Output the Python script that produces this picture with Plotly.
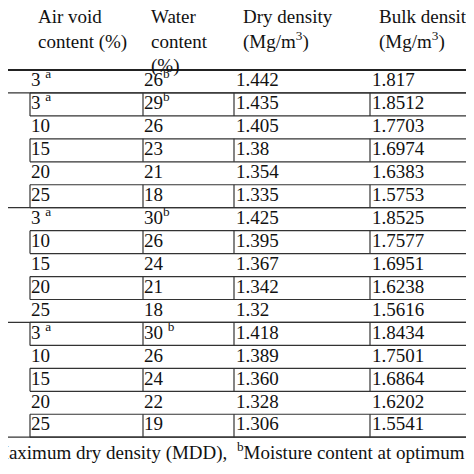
import plotly.graph_objects as go

air_void = ["3 <sup>a</sup>", "3 <sup>a</sup>", "10", "15", "20", "25",
            "3 <sup>a</sup>", "10", "15", "20", "25",
            "3 <sup>a</sup>", "10", "15", "20", "25"]
water = ["26<sup>b</sup>", "29<sup>b</sup>", "26", "23", "21", "18",
         "30<sup>b</sup>", "26", "24", "21", "18",
         "30 <sup>b</sup>", "26", "24", "22", "19"]
dry = ["1.442", "1.435", "1.405", "1.38", "1.354", "1.335",
       "1.425", "1.395", "1.367", "1.342", "1.32",
       "1.418", "1.389", "1.360", "1.328", "1.306"]
bulk = ["1.817", "1.8512", "1.7703", "1.6974", "1.6383", "1.5753",
        "1.8525", "1.7577", "1.6951", "1.6238", "1.5616",
        "1.8434", "1.7501", "1.6864", "1.6202", "1.5541"]
headers = ["Air void<br>content (%)", "Water<br>content<br>(%)",
           "Dry density<br>(Mg/m<sup>3</sup>)", "Bulk density<br>(Mg/m<sup>3</sup>)"]
group_ends = [0, 5, 10, 15]  # last row index in each group

W = 474
top = 62.0
rh = 22.95
col_x = [31, 144, 236, 372]
col_lines = [22, 135, 226, 362]
font = dict(family="Liberation Serif, Times New Roman, serif", size=19, color="#111")

fig = go.Figure()
rows = list(range(len(dry)))
ys = [top + (i + 0.5) * rh for i in rows]
for cx, col in zip(col_x, [air_void, water, dry, bulk]):
    fig.add_trace(go.Scatter(x=[cx - 8] * len(col), y=ys, mode="text", text=col,
                             textposition="middle right", textfont=font,
                             hoverinfo="skip", showlegend=False))

shapes = []
ln = dict(color="#333", width=1.2)
# header rule
shapes.append(dict(type="line", x0=0, x1=W, y0=top, y1=top, line=dict(color="#222", width=1.8)))
# group separators
for g in group_ends:
    y = top + (g + 1) * rh
    shapes.append(dict(type="line", x0=0, x1=W, y0=y, y1=y, line=ln))
# boxed alternate rows
for i in rows:
    if i % 2 == 1:
        y0, y1 = top + i * rh, top + (i + 1) * rh
        shapes.append(dict(type="line", x0=col_lines[0], x1=W, y0=y0, y1=y0, line=ln))
        shapes.append(dict(type="line", x0=col_lines[0], x1=W, y0=y1, y1=y1, line=ln))
        for cxl in col_lines:
            shapes.append(dict(type="line", x0=cxl, x1=cxl, y0=y0, y1=y1, line=ln))

annotations = []
for cx, h in zip(col_x, headers):
    annotations.append(dict(x=cx / W, y=1 + 4 / W, xref="paper", yref="paper", text=h,
                            showarrow=False, xanchor="left", yanchor="top", align="left",
                            font=font, xshift=-3))
annotations.append(dict(x=-18 / W, y=1 - 443 / W, xref="paper", yref="paper",
                        text="Maximum dry density (MDD),  <sup>b</sup>Moisture content at optimum moisture",
                        showarrow=False, xanchor="left", yanchor="middle", font=font))

fig.update_layout(
    width=W, height=W, margin=dict(l=0, r=0, t=0, b=0),
    paper_bgcolor="white", plot_bgcolor="white",
    xaxis=dict(range=[0, W], visible=False, fixedrange=True),
    yaxis=dict(range=[W, 0], visible=False, fixedrange=True),
    shapes=shapes, annotations=annotations,
)
fig.write_html("out.html")
